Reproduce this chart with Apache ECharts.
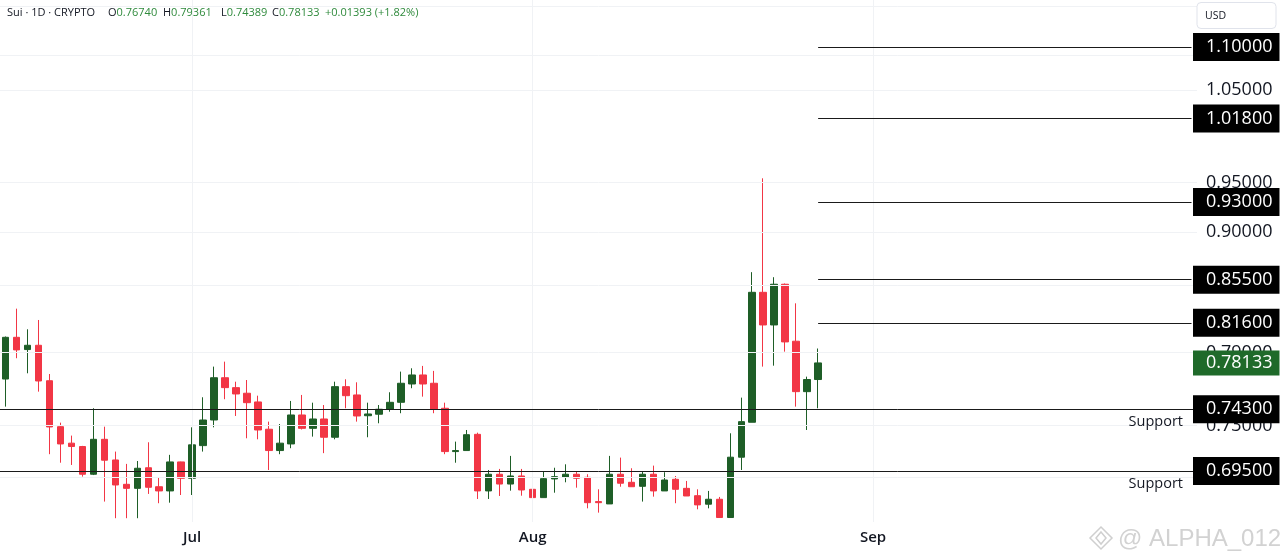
<!DOCTYPE html>
<html><head><meta charset="utf-8">
<script src="https://cdn.jsdelivr.net/npm/echarts@6/dist/echarts.min.js"></script>
<style>html,body{margin:0;padding:0;background:#fff}#c{width:1280px;height:560px}</style>
</head><body><div id="c"></div>
<script>
// ---- data ----
const startDate = '2024-06-14';   // first daily candle
const dayCount = 109;             // candles + empty days up to end of Sep
const monthNames = ['Jan','Feb','Mar','Apr','May','Jun','Jul','Aug','Sep','Oct','Nov','Dec'];

const openVals = [
0.7678, 0.8033, 0.7927, 0.7964, 0.7664, 0.7292, 0.7163, 0.7137, 0.6926, 0.7193,
0.7034, 0.6851, 0.6821, 0.6975, 0.6833, 0.6802, 0.7019, 0.6896, 0.7144, 0.7345,
0.7689, 0.7607, 0.7561, 0.7490, 0.7272, 0.7106, 0.7157, 0.7385, 0.7279, 0.7353,
0.7209, 0.7615, 0.7547, 0.7379, 0.7391, 0.7431, 0.7487, 0.7637, 0.7712, 0.7643,
0.7439, 0.7098, 0.7106, 0.7232, 0.6802, 0.6926, 0.6853, 0.6913, 0.6814, 0.6753,
0.6891, 0.6903, 0.6926, 0.6903, 0.6724, 0.6707, 0.6926, 0.6866, 0.6836, 0.6926,
0.6802, 0.6888, 0.6821, 0.6767, 0.6705, 0.6741, 0.6609, 0.7055, 0.7327, 0.8434,
0.8141, 0.8508, 0.7999, 0.7574, 0.76740
];
const closeVals = [
0.8033, 0.7924, 0.7964, 0.7662, 0.7290, 0.7157, 0.7137, 0.6926, 0.7193, 0.7032,
0.6846, 0.6821, 0.6971, 0.6829, 0.6802, 0.7019, 0.6896, 0.7150, 0.7345, 0.7689,
0.7607, 0.7555, 0.7484, 0.7266, 0.7106, 0.7163, 0.7385, 0.7279, 0.7353, 0.7209,
0.7615, 0.7541, 0.7377, 0.7393, 0.7431, 0.7487, 0.7643, 0.7712, 0.7637, 0.7431,
0.7098, 0.7106, 0.7229, 0.6802, 0.6926, 0.6853, 0.6913, 0.6809, 0.6753, 0.6893,
0.6908, 0.6926, 0.6896, 0.6716, 0.6716, 0.6926, 0.6859, 0.6833, 0.6926, 0.6802,
0.6883, 0.6814, 0.6765, 0.6700, 0.6741, 0.6609, 0.7055, 0.7332, 0.8434, 0.8141,
0.8508, 0.7993, 0.7574, 0.76740, 0.78133
];
const lowVals = [
0.7452, 0.7853, 0.7726, 0.7574, 0.7078, 0.7013, 0.6996, 0.6908, 0.6920, 0.6724,
0.6604, 0.6604, 0.6604, 0.6780, 0.6712, 0.6716, 0.6772, 0.6772, 0.7098, 0.7287,
0.7512, 0.7377, 0.7201, 0.7193, 0.6958, 0.7078, 0.7124, 0.7270, 0.7214, 0.7086,
0.7193, 0.7439, 0.7332, 0.7209, 0.7319, 0.7411, 0.7399, 0.7602, 0.7533, 0.7399,
0.7078, 0.7013, 0.7106, 0.6743, 0.6743, 0.6765, 0.6804, 0.6767, 0.6635, 0.6753,
0.6789, 0.6866, 0.6826, 0.6675, 0.6644, 0.6707, 0.6833, 0.6833, 0.6724, 0.6760,
0.6802, 0.6712, 0.6765, 0.6668, 0.6675, 0.6609, 0.6609, 0.6958, 0.7327, 0.7782,
0.7790, 0.7909, 0.7452, 0.7266, 0.74389
];
const highVals = [
0.8040, 0.8286, 0.8103, 0.8185, 0.7720, 0.7324, 0.7222, 0.7142, 0.7439, 0.7292,
0.7098, 0.7004, 0.7026, 0.7170, 0.6900, 0.7073, 0.7021, 0.7287, 0.7528, 0.7782,
0.7824, 0.7656, 0.7670, 0.7541, 0.7332, 0.7313, 0.7498, 0.7547, 0.7484, 0.7465,
0.7656, 0.7676, 0.7651, 0.7484, 0.7465, 0.7569, 0.7740, 0.7768, 0.7788, 0.7746,
0.7484, 0.7175, 0.7266, 0.7245, 0.6958, 0.6966, 0.7065, 0.6966, 0.6893, 0.6945,
0.6975, 0.7001, 0.6945, 0.6926, 0.6814, 0.7065, 0.7052, 0.6971, 0.6945, 0.6991,
0.6941, 0.6913, 0.6876, 0.6814, 0.6802, 0.6758, 0.7240, 0.7525, 0.8620, 0.9542,
0.8573, 0.8515, 0.8334, 0.7698, 0.79361
];

const gridLevels = [1.15, 1.09, 1.05, 0.95, 0.90, 0.85, 0.79, 0.73, 0.69];
const gridLabelLevels = [1.05, 0.95, 0.90, 0.79, 0.73];
const resistanceLevels = [1.10, 1.018, 0.93, 0.855, 0.816];
const supportLevels = [0.743, 0.695];
const monthStarts = ['2024-07-01', '2024-08-01', '2024-09-01'];
const headerTitle = 'Sui · 1D · CRYPTO';
const changeText = '+0.01393 (+1.82%)';

// ---- build ----
const categories = [];
{
  const d0 = new Date(startDate + 'T00:00:00Z');
  for (let i = 0; i < dayCount; i++) {
    const d = new Date(d0.getTime() + i * 86400000);
    categories.push(d.toISOString().slice(0, 10));
  }
}
const candles = openVals.map((o, i) => [o, closeVals[i], lowVals[i], highVals[i]]);
const lastIdx = openVals.length - 1;
const lastDay = categories[lastIdx];
const endDay = categories[categories.length - 1];
const lastO = openVals[lastIdx], lastH = highVals[lastIdx], lastL = lowVals[lastIdx], lastC = closeVals[lastIdx];

const UP = '#1e5e27', DOWN = '#f23645', INK = '#131722';
const FONT = '"Open Sans", "Noto Sans", sans-serif';
const HIDDEN_LINE = { color: 'rgba(0,0,0,0)', width: 1, type: 'solid' };

const boxLabel = (txt, bg, dist) => ({
  show: true, position: 'end', distance: dist, formatter: txt,
  backgroundColor: bg, color: '#fff', fontFamily: FONT, fontSize: 18,
  lineHeight: 18, padding: [5, 7, 5, 13]
});

const gridMarks = [];
gridLevels.forEach(v => gridMarks.push({ yAxis: v, lineStyle: { color: '#f0f2f5', width: 1, type: 'solid' }, label: { show: false } }));
monthStarts.forEach(d => gridMarks.push({ xAxis: d, lineStyle: { color: '#f0f2f5', width: 1, type: 'solid' }, label: { show: false } }));
gridLabelLevels.forEach(v => gridMarks.push({
  yAxis: v, lineStyle: HIDDEN_LINE,
  label: { show: true, position: 'end', distance: -4, formatter: v.toFixed(5), color: INK,
           fontFamily: FONT, fontSize: 18, lineHeight: 18, padding: [5, 7, 5, 13] }
}));

const levelMarks = [];
resistanceLevels.forEach(v => levelMarks.push([
  { coord: [lastDay, v], lineStyle: { color: '#1a1a1a', width: 1, type: 'solid' }, label: boxLabel(v.toFixed(5), '#000', 1.5) },
  { coord: [endDay, v] }
]));
supportLevels.forEach(v => {
  levelMarks.push({ yAxis: v, lineStyle: { color: '#1a1a1a', width: 1, type: 'solid' }, label: boxLabel(v.toFixed(5), '#000', -4) });
  levelMarks.push({ yAxis: v, lineStyle: HIDDEN_LINE,
    label: { show: true, position: 'insideEndBottom', distance: [14, 5], formatter: 'Support', color: INK, fontFamily: FONT, fontSize: 14.5 } });
});
levelMarks.push({ yAxis: lastC, lineStyle: HIDDEN_LINE, label: Object.assign(boxLabel(lastC.toFixed(5), '#1f6a2a', -4), { padding: [4, 7, 3, 13] }) });

const chart = echarts.init(document.getElementById('c'), null, { renderer: 'canvas' });
const hdrRich = {
  k: { fill: INK, fontSize: 11, fontFamily: FONT },
  v: { fill: '#2f8a3c', fontSize: 11, fontFamily: FONT }
};
chart.setOption({
  animation: false,
  backgroundColor: '#fff',
  grid: { left: 0, right: 83, top: 0, bottom: 38, containLabel: false, outerBoundsMode: 'none' },
  xAxis: {
    type: 'category', data: categories, boundaryGap: true,
    axisLine: { show: false }, axisTick: { show: false }, splitLine: { show: false },
    axisLabel: {
      interval: (i, v) => v.slice(8) === '01',
      formatter: v => monthNames[+v.slice(5, 7) - 1],
      color: INK, fontSize: 15, fontWeight: 600, fontFamily: FONT, margin: 8
    }
  },
  yAxis: {
    type: 'log', logBase: 10, min: 0.6577, max: 1.1574, position: 'right',
    axisLine: { show: false }, axisTick: { show: false }, axisLabel: { show: false }, splitLine: { show: false }
  },
  series: [
    {
      type: 'line', data: [], z: 1, silent: true,
      markLine: { silent: true, symbol: 'none', animation: false, precision: 6, data: gridMarks }
    },
    {
      type: 'candlestick', data: candles, z: 3, barWidth: 7,
      itemStyle: { color: UP, color0: DOWN, borderColor: UP, borderColor0: DOWN, borderWidth: 1 }
    },
    {
      type: 'line', data: [], z: 5, silent: true,
      markLine: { silent: true, symbol: 'none', animation: false, precision: 6, data: levelMarks }
    }
  ],
  graphic: [
    { type: 'text', left: 7, top: 7, style: { text: '{k|' + headerTitle + '}', rich: hdrRich } },
    { type: 'text', left: 108, top: 7, style: { text: '{k|O}{v|' + lastO.toFixed(5) + '}', rich: hdrRich } },
    { type: 'text', left: 163, top: 7, style: { text: '{k|H}{v|' + lastH.toFixed(5) + '}', rich: hdrRich } },
    { type: 'text', left: 221, top: 7, style: { text: '{k|L}{v|' + lastL.toFixed(5) + '}', rich: hdrRich } },
    { type: 'text', left: 272, top: 7, style: { text: '{k|C}{v|' + lastC.toFixed(5) + '}', rich: hdrRich } },
    { type: 'text', left: 325, top: 7, style: { text: '{v|' + changeText + '}', rich: hdrRich } },
    { type: 'rect', shape: { x: 1197, y: 2.5, width: 79, height: 26, r: 4 }, style: { fill: '#fff', stroke: '#e0e3eb', lineWidth: 1 }, z: 10 },
    { type: 'text', x: 1205, y: 16, z: 11, style: { text: 'USD', fill: INK, fontSize: 10.5, fontFamily: FONT, verticalAlign: 'middle' } },
    { type: 'polygon', z: 10, shape: { points: [[1101, 527], [1112, 538], [1101, 549], [1090, 538]] }, style: { fill: 'none', stroke: '#cfcfcf', lineWidth: 1.5 } },
    { type: 'polygon', z: 10, shape: { points: [[1101, 532], [1106, 538], [1101, 544], [1096, 538]] }, style: { fill: 'none', stroke: '#cfcfcf', lineWidth: 1.5 } },
    { type: 'text', x: 1118, y: 539, z: 10, style: { text: '@ ALPHA_012', fill: '#d2d2d2', fontSize: 24, fontFamily: '"Liberation Sans", sans-serif', verticalAlign: 'middle' } }
  ]
});
</script></body></html>
